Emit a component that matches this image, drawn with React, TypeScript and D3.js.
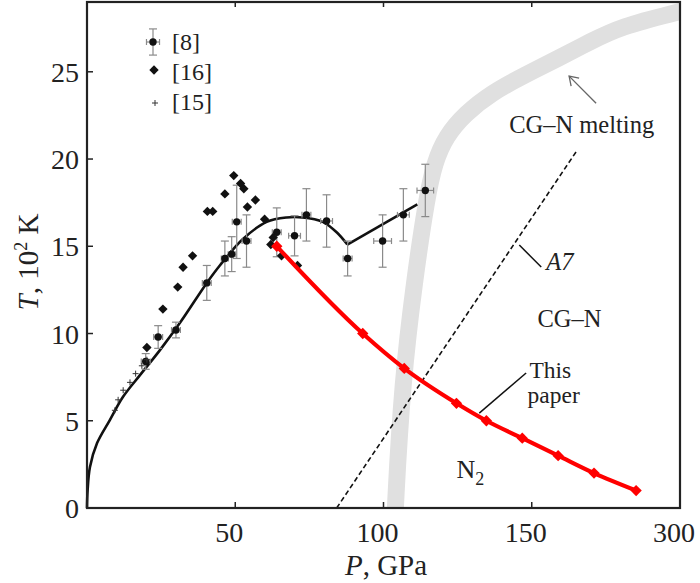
import React from 'react';
import * as d3 from 'd3';

// Ref. [8]: points with error bars (P in GPa, T in 10^2 K)
const p8 = [19.8, 24, 30, 40.4, 46.5, 48.8, 50.5, 53.8, 64, 70, 74, 80.8, 87.9, 99.7, 106.7, 114.1];
const t8 = [8.4, 9.8, 10.2, 12.9, 14.3, 14.55, 16.4, 15.3, 15.8, 15.6, 16.8, 16.45, 14.3, 15.3, 16.8, 18.2];
const dT8 = [0.45, 0.65, 0.45, 1.0, 1.0, 1.0, 2.1, 1.5, 1.4, 1.15, 1.5, 1.5, 1.0, 1.5, 1.5, 1.5];
const dP8 = [1.5, 1.5, 1.5, 1.5, 1.2, 1.2, 1.5, 1.5, 1.5, 2, 1.5, 2, 1.5, 3, 2, 2.8];

// Ref. [16]
const p16 = [20.2, 25.6, 30.6, 32.4, 35.6, 40.6, 42.4, 46.5, 49.5, 51.8, 52.9, 54.1, 56.8, 59.9, 62.0, 62.8, 65.6, 71.0];
const t16 = [9.2, 11.4, 12.66, 13.8, 14.45, 17.0, 17.0, 18.0, 19.05, 18.6, 18.3, 17.25, 17.65, 16.55, 15.1, 15.5, 14.45, 13.9];

// Ref. [15]
const p15 = [9.4, 10.5, 12.2, 14.5, 16.4, 18.5, 20.2];
const t15 = [5.6, 6.2, 6.75, 7.2, 7.7, 8.15, 8.5];

// fitted melting curve of N2
const fitP = [0, 0.2, 1.0, 3.4, 7.7, 12.1, 17.8, 24.6, 31.3, 40.4, 44.8, 52.5, 60.6, 67.3, 72.7, 79.5, 84.2, 87.8];
const fitT = [0, 1.0, 2.35, 3.72, 5.04, 6.36, 7.6, 9.05, 10.6, 12.9, 13.9, 15.4, 16.4, 16.65, 16.65, 16.4, 15.8, 15.1];
const tailP = [87.8, 111.4];
const tailT = [15.1, 17.4];

// this paper
const paperP = [64, 93, 107, 124.6, 134.7, 146.8, 158.9, 171, 185.2];
const paperT = [15, 10, 8, 6, 5, 4, 3, 2, 1];

// CG-N melting band (centre line)
const bandP = [103.6, 103.9, 106.4, 110.4, 114.6, 117.2, 121.0, 127.5, 136.5, 147.5, 159.3, 169.4, 180.1, 198.7, 206];
const bandT = [-2, 0, 7.3, 13.0, 17.8, 19.8, 21.3, 22.6, 23.8, 24.8, 25.8, 26.7, 27.6, 28.4, 28.7];

// A7 transition line
const a7P = [84.2, 165.3];
const a7T = [0, 20.5];

const xTicks = [50, 100, 150, 200];
const xTickLabels = ['50', '100', '150', '300'];
const yTicks = [0, 5, 10, 15, 20, 25];

const zip = (a: number[], b: number[]) => a.map((v, i) => [v, b[i]] as [number, number]);

export default function App() {
  const W = 700;
  const H = 583;
  const left = 87, right = 680, top = 2, bottom = 508;
  const x = d3.scaleLinear().domain([0, 200]).range([left, right]);
  const y = d3.scaleLinear().domain([0, 29]).range([bottom, top]);

  const mk = () => d3.line<[number, number]>().x((d) => x(d[0])).y((d) => y(d[1]));
  const fitPath = mk().curve(d3.curveCatmullRom)(zip(fitP, fitT));
  const tailPath = mk()(zip(tailP, tailT));
  const paperPath = mk().curve(d3.curveMonotoneX)(zip(paperP, paperT));
  const bandPath = mk().curve(d3.curveBasis)(zip(bandP, bandT));
  const a7Path = mk()(zip(a7P, a7T));

  const square = d3.symbol().type(d3.symbolSquare).size(44)();
  const redDiamond = d3.symbol().type(d3.symbolSquare).size(64)();
  const serif = "'Liberation Serif', 'Times New Roman', serif";
  const errColor = '#8a8a8a';
  const ink = '#222';

  const errBar = (px: number, py: number, dp: number, dt: number, key: string | number) => {
    const cx = x(px), cy = y(py);
    const y1 = y(py + dt), y2 = y(py - dt);
    const x1 = x(px - dp), x2 = x(px + dp);
    return (
      <g key={key} stroke={errColor} strokeWidth={1.2}>
        <line x1={cx} x2={cx} y1={y1} y2={y2} />
        <line x1={cx - 4} x2={cx + 4} y1={y1} y2={y1} />
        <line x1={cx - 4} x2={cx + 4} y1={y2} y2={y2} />
        <line x1={x1} x2={x2} y1={cy} y2={cy} />
        <line x1={x1} x2={x1} y1={cy - 3} y2={cy + 3} />
        <line x1={x2} x2={x2} y1={cy - 3} y2={cy + 3} />
      </g>
    );
  };

  const plus = (cx: number, cy: number, key: string | number) => (
    <g key={key} stroke="#333" strokeWidth={1}>
      <line x1={cx - 3} x2={cx + 3} y1={cy} y2={cy} />
      <line x1={cx} x2={cx} y1={cy - 3} y2={cy + 3} />
    </g>
  );

  return (
    <svg width={W} height={H} style={{ position: 'absolute', left: 0, top: 0, background: '#fff', fontFamily: serif }}>
      <defs>
        <clipPath id="plot">
          <rect x={left} y={top} width={right - left} height={bottom - top} />
        </clipPath>
      </defs>

      {/* CG-N melting band */}
      <path d={bandPath || ''} fill="none" stroke="#e0e0e0" strokeWidth={17} clipPath="url(#plot)" />

      {/* A7 line */}
      <path d={a7Path || ''} fill="none" stroke="#111" strokeWidth={1.6} strokeDasharray="5,3" />

      {/* fitted curve */}
      <path d={fitPath || ''} fill="none" stroke="#111" strokeWidth={2.6} />
      <path d={tailPath || ''} fill="none" stroke="#111" strokeWidth={2.6} />

      {/* [8] error bars and points */}
      {p8.map((p, i) => errBar(p, t8[i], dP8[i], dT8[i], 'e' + i))}
      {p8.map((p, i) => (
        <circle key={'c' + i} cx={x(p)} cy={y(t8[i])} r={3.7} fill="#111" />
      ))}

      {/* [16] */}
      {p16.map((p, i) => (
        <path key={'d' + i} d={square || ''} fill="#111" transform={`translate(${x(p)},${y(t16[i])}) rotate(45)`} />
      ))}

      {/* [15] */}
      {p15.map((p, i) => plus(x(p), y(t15[i]), 'p' + i))}

      {/* this paper */}
      <path d={paperPath || ''} fill="none" stroke="#ff0000" strokeWidth={4.2} />
      {paperP.map((p, i) => (
        <path key={'r' + i} d={redDiamond || ''} fill="#ff0000" transform={`translate(${x(p)},${y(paperT[i])}) rotate(45)`} />
      ))}

      {/* frame */}
      <rect x={left} y={top} width={right - left} height={bottom - top} fill="none" stroke={ink} strokeWidth={2.2} />

      {/* ticks */}
      {yTicks.map((t) => (
        <g key={'yt' + t}>
          <line x1={left} x2={left + 6} y1={y(t)} y2={y(t)} stroke={ink} strokeWidth={1.5} />
          <text x={left - 8} y={y(t)} dy="0.36em" textAnchor="end" fontSize={28} fill={ink}>{t}</text>
        </g>
      ))}
      {xTicks.map((t, i) => (
        <g key={'xt' + t}>
          {i < xTicks.length - 1 && (
            <>
              <line x1={x(t)} x2={x(t)} y1={bottom} y2={bottom - 6} stroke={ink} strokeWidth={1.5} />
              <line x1={x(t)} x2={x(t)} y1={top} y2={top + 5} stroke={ink} strokeWidth={1.5} />
            </>
          )}
          <text x={x(t) - 6} y={542} textAnchor="middle" fontSize={28} fill={ink}>{xTickLabels[i]}</text>
        </g>
      ))}

      {/* axis titles */}
      <text x={386} y={575} textAnchor="middle" fontSize={29} fill={ink}>
        <tspan fontStyle="italic">P</tspan>, GPa
      </text>
      <text transform={`translate(38,262) rotate(-90)`} textAnchor="middle" fontSize={29} fill={ink}>
        <tspan fontStyle="italic">T</tspan>, 10<tspan dy={-11} fontSize={18}>2</tspan><tspan dy={11}> K</tspan>
      </text>

      {/* legend */}
      <g>
        {errBar(x.invert(153), y.invert(42), 2.2, 0.75, 'leg8')}
        <circle cx={153} cy={42} r={3.7} fill="#111" />
        <text x={172} y={50} fontSize={24} fill={ink}>[8]</text>
        <path d={square || ''} fill="#111" transform="translate(154,70) rotate(45)" />
        <text x={172} y={80} fontSize={24} fill={ink}>[16]</text>
        {plus(155, 103, 'leg15')}
        <text x={172} y={110} fontSize={24} fill={ink}>[15]</text>
      </g>

      {/* annotations */}
      <text x={x(142.4)} y={y(21.5)} fontSize={24.5} fill={ink}>CG–N melting</text>
      <g stroke="#666" strokeWidth={1.3} fill="none">
        <line x1={x(171.7)} y1={y(23.2)} x2={x(162.6)} y2={y(24.75)} />
        <path d={`M${x(162.6) + 2},${y(24.75) + 10} L${x(162.6)},${y(24.75)} L${x(162.6) + 10},${y(24.75) + 2}`} />
      </g>
      <text x={x(151.9)} y={y(10.37)} fontSize={24.5} fill={ink}>CG–N</text>
      <line x1={x(145.8)} y1={y(15.07)} x2={x(153.2)} y2={y(13.81)} stroke="#111" strokeWidth={1.5} />
      <text x={x(154.9)} y={y(13.64)} fontSize={24.5} fontStyle="italic" fill={ink}>A7</text>
      <line x1={x(132.3)} y1={y(5.44)} x2={x(148.1)} y2={y(7.74)} stroke="#111" strokeWidth={1.5} />
      <text x={x(149.2)} y={y(7.45)} fontSize={23.5} fill={ink}>This</text>
      <text x={x(148.6)} y={y(6.0)} fontSize={23.5} fill={ink}>paper</text>
      <text x={x(124.6)} y={y(1.72)} fontSize={26} fill={ink}>
        N<tspan dy={7} fontSize={18}>2</tspan>
      </text>
    </svg>
  );
}
